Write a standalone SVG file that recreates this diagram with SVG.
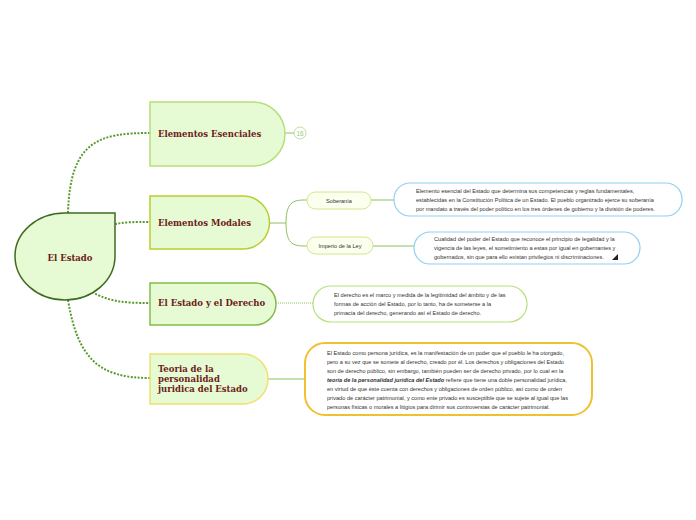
<svg xmlns="http://www.w3.org/2000/svg" width="696" height="520" viewBox="0 0 696 520">
<style>
.t{font-family:"DejaVu Serif",serif;font-weight:bold;fill:#6e1a1a;font-size:8.5px}
.s{font-family:"Liberation Sans",sans-serif;fill:#333;font-size:5.6px}
.dot{fill:none;stroke:#5a9a2a;stroke-width:2;stroke-dasharray:2 1.5}
.ln{fill:none;stroke:#8cc060;stroke-width:1}
</style>
<rect width="696" height="520" fill="#fff"/>
<g id="connectors">
<path class="dot" d="M68,213 C70,140 100,133 150,133"/>
<path class="dot" d="M115,224 C125,222 135,222 150,222"/>
<path class="dot" d="M92,292 C110,302 125,303 150,303"/>
<path class="dot" d="M68,300 C78,360 100,378 150,378"/>
<path class="ln" d="M285,133 H294"/>
<path class="ln" d="M270,223 H286 M286,223 C286,200 295,200 307,200 M286,223 C286,246 295,246 307,246"/>
<path class="ln" d="M371,200 H394 M373,246 H414"/>
<path class="ln" d="M276,303 H313" stroke-dasharray="1 1"/>
<path class="ln" d="M268,379 H305"/>
</g>
<g id="root"><path d="M65,213 H115 V256 A50,44 0 0 1 65,300 A50,44 0 0 1 15,256 A50,43 0 0 1 65,213 Z" fill="#e6fbd4" stroke="#3e6b1e" stroke-width="1.5"/>
<text class="t" x="70" y="261" text-anchor="middle" font-size="12">El Estado</text></g>
<g id="n1"><path d="M150,102 H253 A32,32 0 0 1 253,166 H150 Z" fill="#e6fbd4" stroke="#b6e07a" stroke-width="1.5"/><text class="t" x="158" y="137">Elementos Esenciales</text>
<circle cx="300" cy="133" r="6" fill="#fff" stroke="#a8d890" stroke-width="0.8"/><text x="300" y="135.5" text-anchor="middle" font-family="Liberation Sans,sans-serif" font-size="6.5" fill="#9aca80">16</text></g>
<g id="n2"><path d="M150,196 H243 A26.5,26.5 0 0 1 243,249 H150 Z" fill="#e6fbd4" stroke="#b8cf2e" stroke-width="1.5"/><text class="t" x="158" y="226">Elementos Modales</text></g>
<g id="n3"><path d="M150,283 H255 A21,21 0 0 1 255,325 H150 Z" fill="#e6fbd4" stroke="#86bb4c" stroke-width="1.5"/><text class="t" x="158" y="306">El Estado y el Derecho</text></g>
<g id="n4"><path d="M150,354 H243 A25,25 0 0 1 243,404 H150 Z" fill="#e6fbd4" stroke="#f0e070" stroke-width="1.5"/><text class="t" x="158" y="372">Teoria de la</text><text class="t" x="158" y="382">personalidad</text><text class="t" x="158" y="392">juridica del Estado</text></g>
<g id="sob"><rect x="307" y="192" width="64" height="17" rx="8.5" fill="#fbffee" stroke="#d6e48a"/><text class="s" x="339" y="202.5" text-anchor="middle">Soberanía</text></g>
<g id="imp"><rect x="307" y="237" width="66" height="17" rx="8.5" fill="#fbffee" stroke="#d6e48a"/><text class="s" x="340" y="247.5" text-anchor="middle">Imperio de la  Ley</text></g>
<g id="d1"><rect x="394" y="183" width="288" height="33" rx="16" fill="#fff" stroke="#8fd0ee" stroke-width="1.2"/>
<text class="s" x="416" y="193">Elemento esencial del Estado que determina sus competencias y reglas fundamentales,</text>
<text class="s" x="416" y="202">establecidas en la Constitución Política de un Estado. El pueblo organizado ejerce su soberanía</text>
<text class="s" x="416" y="211">por mandato a través del poder político en los tres órdenes de gobierno y la división de poderes.</text></g>
<g id="d2"><rect x="414" y="232" width="226" height="32" rx="16" fill="#fff" stroke="#8fd0ee" stroke-width="1.2"/>
<text class="s" x="434" y="241">Cualidad del poder del Estado que reconoce el principio de legalidad y la</text>
<text class="s" x="434" y="250">vigencia de las leyes, el sometimiento a estas por igual en gobernantes y</text>
<text class="s" x="434" y="259">gobernados, sin que para ello existan privilegios ni discriminaciones.</text>
<path d="M612,260 L618,254 V260 Z" fill="#222"/></g>
<g id="d3"><rect x="313" y="286" width="214" height="36" rx="18" fill="#fff" stroke="#b6e07a" stroke-width="1.2"/>
<text class="s" x="334" y="297">El derecho es el marco y medida de la legitimidad del ámbito y de las</text>
<text class="s" x="334" y="306">formas de acción del Estado, por lo tanto, ha de someterse a la</text>
<text class="s" x="334" y="315">primacía del derecho, generando así el Estado de derecho.</text></g>
<g id="d4"><rect x="305" y="343" width="287" height="72" rx="20" fill="#fff" stroke="#f0c030" stroke-width="2"/>
<text class="s" x="327" y="355">El Estado como persona jurídica, es la manifestación de un poder que el pueblo le ha otorgado,</text>
<text class="s" x="327" y="364">pero a su vez que se somete al derecho, creado por él.  Los derechos y obligaciones del Estado</text>
<text class="s" x="327" y="373">son de derecho público, sin embargo, también pueden ser de derecho privado, por lo cual en la</text>
<text class="s" x="327" y="382"><tspan font-weight="bold" font-style="italic">teoría de la personalidad jurídica del Estado</tspan> refiere que tiene una doble personalidad jurídica,</text>
<text class="s" x="327" y="391">en virtud de que éste cuenta con derechos y obligaciones de orden público, así como de orden</text>
<text class="s" x="327" y="400">privado de carácter patrimonial, y como ente privado es susceptible que se sujete al igual que las</text>
<text class="s" x="327" y="409">personas físicas o morales a litigios para dirimir sus controversias de carácter patrimonial.</text></g>
</svg>
